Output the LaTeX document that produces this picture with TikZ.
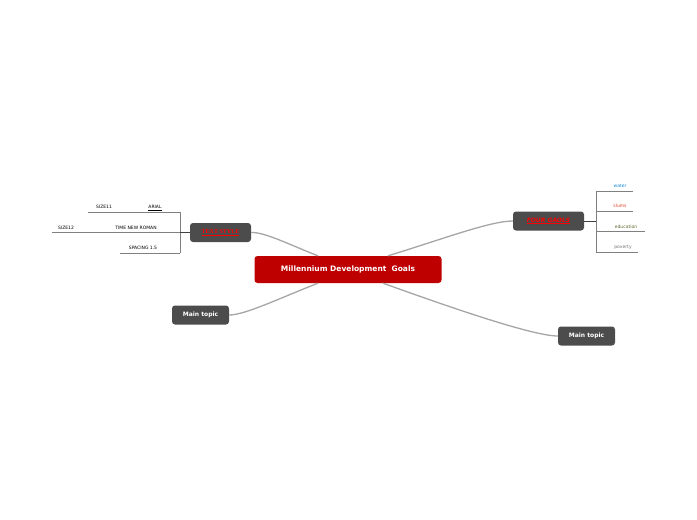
\documentclass[tikz,border=0pt]{standalone}
\usepackage{fontspec}
\setmainfont{DejaVu Sans}
\newfontfamily\serifb{Liberation Serif}
\begin{document}
\begin{tikzpicture}[x=1pt,y=-1pt,
 topic/.style={rounded corners=3pt,fill=black!70,text=white,font=\fontsize{6}{7}\selectfont\bfseries,minimum height=19pt,inner sep=0pt},
 conn/.style={draw=black!35,line width=1.3pt},
 sub/.style={draw=black!50,line width=0.6pt},
 lbl/.style={font=\fontsize{4.5}{5}\selectfont,inner sep=0pt}]
\useasboundingbox (0,0) rectangle (697,520);
\node[rounded corners=3pt,fill=red!75!black,text=white,font=\fontsize{7.5}{8}\selectfont\bfseries,minimum width=187pt,minimum height=27pt] (c) at (348,269.5) {Millennium Development\ \ Goals};
\node[topic,minimum width=61pt] (ts) at (220.5,232.5) {\serifb\color{red}\underline{TEXT STYLE}};
\node[topic,minimum width=71pt] (fg) at (548.5,221) {\color{red}\itshape\underline{FOUR GAOLS}};
\node[topic,minimum width=57pt] (m1) at (200.5,315) {Main topic};
\node[topic,minimum width=57pt] (m2) at (586.5,336) {Main topic};
\draw[conn] (c.north) ++(-30,0) coordinate (a1) .. controls (290,245) and (265,232) .. (ts.east);
\draw[conn] (c.north) ++(40,0) .. controls (440,240) and (490,221) .. (fg.west);
\draw[conn] (c.south) ++(-30,0) .. controls (280,298) and (245,315) .. (m1.east);
\draw[conn] (c.south) ++(35,0) .. controls (430,300) and (530,336) .. (m2.west);
% text style subtree
\coordinate (tv1) at (180,212); \coordinate (tv2) at (180,253);
\draw[sub] (tv1) -- (tv2);
\draw[draw=black!75,line width=1pt] (ts.west) -- (180,232.5) coordinate (tm);
\draw[sub] (tv1) -- (88,212);
\draw[sub] (tm) -- (52,232.5);
\draw[sub] (tv2) -- (120,253);
\node[lbl,anchor=base] (s11) at (104,208.5) {SIZE11};
\node[lbl,anchor=base] (ar) at (155,208.5) {\underline{ARIAL}};
\node[lbl,anchor=base] (s12) at (66,229) {SIZE12};
\node[lbl,anchor=base] (tnr) at (136,229) {TIME NEW ROMAN};
\node[lbl,anchor=base] (sp) at (143,249.5) {SPACING 1.5};
% four gaols subtree
\coordinate (fv1) at (596,191); \coordinate (fv2) at (596,252);
\draw[sub] (fv1) -- (fv2);
\draw[draw=black!75,line width=1pt] (fg.east) -- (596,221);
\draw[sub] (fv1) -- (633,191);
\draw[sub] (596,211) -- (633,211);
\draw[sub] (596,231.5) -- (645,231.5);
\draw[sub] (fv2) -- (638,252);
\node[lbl,anchor=base,text=cyan!70!blue] (w) at (620,187.5) {water};
\node[lbl,anchor=base,text=red!50!brown] (sl) at (620,207.5) {slums};
\node[lbl,anchor=base,text=olive!80!green!60!black] (ed) at (626,228) {education};
\node[lbl,anchor=base,text=black!55] (pv) at (623,248.5) {poverty};
\end{tikzpicture}
\end{document}
